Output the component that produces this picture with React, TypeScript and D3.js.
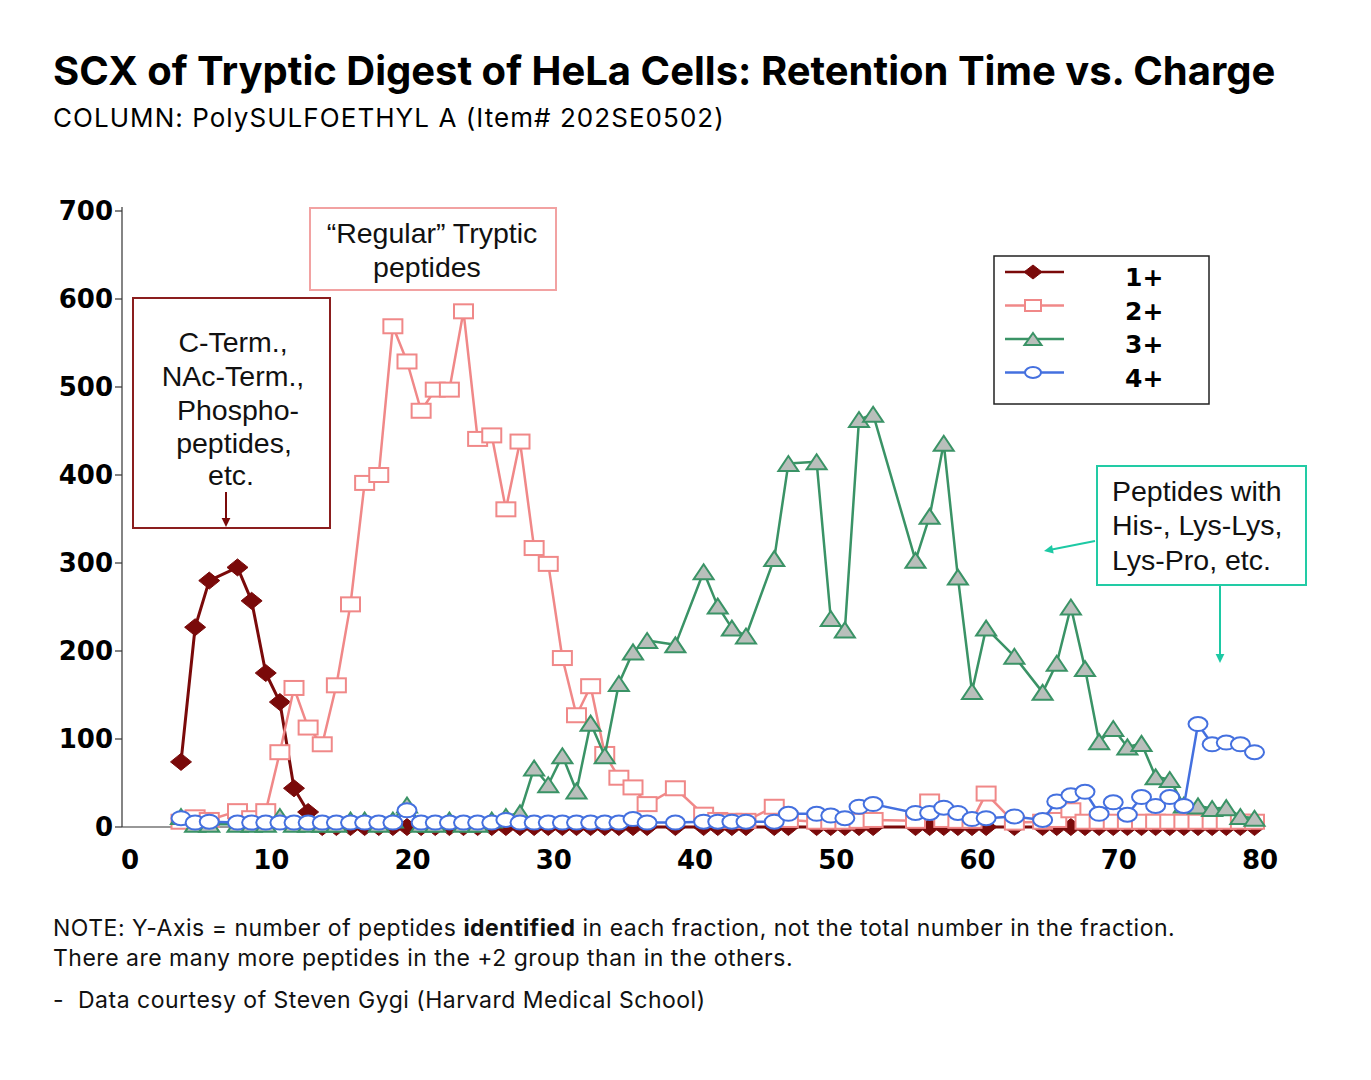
import React from 'react'
import * as d3 from 'd3'

/* svg size and plot frame */
const width = 1371
const height = 1080
const plot = { left: 122, right: 1265, top: 211, bottom: 827 }

/* SCX fractions that were analysed (7, 38, 40, 45, 48, 54, 55, 62, 64 have no data) */
const fractions = [
    4, 5, 6, 8, 9, 10, 11, 12, 13, 14,
    15, 16, 17, 18, 19, 20, 21, 22, 23, 24,
    25, 26, 27, 28, 29, 30, 31, 32, 33, 34,
    35, 36, 37, 39, 41, 42, 43, 44, 46, 47,
    49, 50, 51, 52, 53, 56, 57, 58, 59, 60,
    61, 63, 65, 66, 67, 68, 69, 70, 71, 72,
    73, 74, 75, 76, 77, 78, 79, 80,
]

/* number of identified peptides per fraction, by charge state */
const charge1 = [
    74, 227, 280, 295, 257, 175, 142, 44, 17, 0,
    0, 0, 0, 0, 0, 0, 0, 0, 0, 0,
    0, 0, 0, 0, 0, 0, 0, 0, 0, 0,
    0, 0, 0, 0, 0, 0, 0, 0, 0, 0,
    0, 0, 0, 0, 0, 0, 0, 0, 0, 0,
    0, 0, 0, 0, 0, 0, 0, 0, 0, 0,
    0, 0, 0, 0, 0, 0, 0, 0,
]
const charge2 = [
    6, 11, 8, 18, 10, 18, 85, 158, 113, 94,
    161, 253, 391, 400, 569, 529, 473, 497, 497, 586,
    441, 445, 361, 438, 317, 299, 192, 127, 160, 83,
    56, 45, 26, 44, 14, 8, 7, 7, 23, 8,
    6, 6, 6, 7, 8, 7, 29, 8, 7, 7,
    38, 5, 6, 8, 19, 6, 6, 6, 6, 6,
    6, 6, 6, 6, 6, 6, 6, 6,
]
const charge3 = [
    12, 3, 3, 3, 3, 3, 12, 3, 3, 3,
    3, 8, 8, 3, 8, 25, 3, 3, 8, 3,
    3, 8, 12, 16, 67, 48, 81, 41, 118, 81,
    163, 199, 212, 207, 290, 251, 226, 217, 305, 413,
    415, 237, 224, 463, 469, 303, 353, 436, 284, 154,
    226, 194, 153, 186, 250, 180, 97, 112, 91, 95,
    57, 54, 25, 24, 21, 22, 12, 10,
]
const charge4 = [
    10, 5, 6, 5, 5, 5, 5, 5, 5, 5,
    5, 5, 5, 5, 5, 19, 5, 5, 5, 5,
    5, 5, 8, 5, 5, 5, 5, 5, 5, 5,
    5, 9, 5, 5, 6, 6, 6, 6, 6, 15,
    15, 13, 10, 23, 26, 16, 16, 22, 16, 9,
    10, 12, 8, 29, 36, 40, 15, 28, 14, 34,
    24, 34, 24, 117, 94, 96, 94, 85,
]

const xTicks = [0, 10, 20, 30, 40, 50, 60, 70, 80]
const yTicks = [0, 100, 200, 300, 400, 500, 600, 700]

/* series styling: charge label, colours and marker shape */
const series = [
    { label: '1+', values: charge1, stroke: '#7a0a0a', fill: '#7a0a0a', width: 3, shape: 'diamond' },
    { label: '2+', values: charge2, stroke: '#f08888', fill: '#ffffff', width: 2.5, shape: 'square' },
    { label: '3+', values: charge3, stroke: '#3a9366', fill: '#b9bfbb', width: 2.5, shape: 'triangle' },
    { label: '4+', values: charge4, stroke: '#4470df', fill: '#ffffff', width: 2.5, shape: 'circle' },
]

const xScale = d3.scaleLinear().domain([0, 80]).range([124.5, 1254.5])
const yScale = d3.scaleLinear().domain([0, 700]).range([plot.bottom, plot.top])

/* marker drawn centred on (0,0) with the given box size */
const Marker = ({ shape, w, h, stroke, fill, sw }) => {
    if (shape === 'diamond')
        return <path d={`M0,${-h / 2}L${w / 2},0L0,${h / 2}L${-w / 2},0Z`} fill={fill} stroke={stroke} strokeWidth={1} />
    if (shape === 'square')
        return <rect x={-w / 2} y={-h / 2} width={w} height={h} fill={fill} stroke={stroke} strokeWidth={sw} />
    if (shape === 'triangle')
        return <path d={`M0,${-h / 2}L${w / 2},${h / 2}L${-w / 2},${h / 2}Z`} fill={fill} stroke={stroke} strokeWidth={sw} strokeLinejoin="miter" />
    return <ellipse rx={w / 2} ry={h / 2} fill={fill} stroke={stroke} strokeWidth={sw} />
}

const markerSize = {
    diamond: [21, 17],
    square: [19, 14],
    triangle: [20, 15],
    circle: [19, 14],
}

const annoFont = '"Liberation Sans", Arial, sans-serif'
const axisFont = '"DejaVu Sans", sans-serif'
const textFont = 'Inter, "Noto Sans", sans-serif'

const Arrow = ({ x1, y1, x2, y2, color }) => {
    const a = Math.atan2(y2 - y1, x2 - x1)
    const len = 10
    const spread = 0.45
    const p1 = [x2 - len * Math.cos(a - spread), y2 - len * Math.sin(a - spread)]
    const p2 = [x2 - len * Math.cos(a + spread), y2 - len * Math.sin(a + spread)]
    const bx = x2 - (len - 2) * Math.cos(a)
    const by = y2 - (len - 2) * Math.sin(a)
    return (
        <g>
            <line x1={x1} y1={y1} x2={bx} y2={by} stroke={color} strokeWidth={2} />
            <path d={`M${x2},${y2}L${p1[0]},${p1[1]}L${p2[0]},${p2[1]}Z`} fill={color} />
        </g>
    )
}

export default function App() {
    const line = d3
        .line()
        .x((d) => xScale(d[0]))
        .y((d) => yScale(d[1]))

    return (
        <svg
            width={width}
            height={height}
            style={{ position: 'absolute', left: 0, top: 0, background: '#fff' }}
        >
            {/* title block */}
            <text x={53} y={85} fontFamily={textFont} fontWeight={700} fontSize={40} fill="#000">
                SCX of Tryptic Digest of HeLa Cells: Retention Time vs. Charge
            </text>
            <text x={53} y={127} fontFamily={textFont} fontSize={26} letterSpacing={1.05} fill="#000">
                COLUMN: PolySULFOETHYL A (Item# 202SE0502)
            </text>

            {/* y axis */}
            <line x1={plot.left} y1={yScale(700) - 4} x2={plot.left} y2={plot.bottom} stroke="#333" strokeWidth={1.2} />
            {yTicks.map((t) => (
                <g key={t} transform={`translate(0, ${yScale(t)})`}>
                    <line x1={plot.left - 7} x2={plot.left} stroke="#333" strokeWidth={1.2} />
                    <text
                        x={113}
                        dy="0.36em"
                        textAnchor="end"
                        fontFamily={axisFont}
                        fontWeight={700}
                        fontSize={26}
                    >
                        {t}
                    </text>
                </g>
            ))}

            {/* x axis */}
            <line x1={plot.left} y1={plot.bottom} x2={plot.right} y2={plot.bottom} stroke="#333" strokeWidth={1.2} />
            {xTicks.map((t) => (
                <text
                    key={t}
                    x={xScale(t) + 5.5}
                    y={869}
                    textAnchor="middle"
                    fontFamily={axisFont}
                    fontWeight={700}
                    fontSize={26}
                >
                    {t}
                </text>
            ))}

            {/* series: line, then markers */}
            {series.map((s) => {
                const pts = fractions.map((f, i) => [f, s.values[i]])
                const [w, h] = markerSize[s.shape]
                return (
                    <g key={s.label}>
                        <path d={line(pts)} fill="none" stroke={s.stroke} strokeWidth={s.width} strokeLinejoin="round" />
                        {pts.map((p, i) => (
                            <g key={i} transform={`translate(${xScale(p[0])}, ${yScale(p[1])})`}>
                                <Marker shape={s.shape} w={w} h={h} stroke={s.stroke} fill={s.fill} sw={2} />
                            </g>
                        ))}
                    </g>
                )
            })}

            {/* legend */}
            <rect x={994} y={256} width={215} height={148} fill="#fff" stroke="#222" strokeWidth={1.5} />
            {series.map((s, i) => {
                const ly = 272 + i * 33.5
                const [w, h] = markerSize[s.shape]
                return (
                    <g key={s.label}>
                        <line x1={1005} x2={1064} y1={ly} y2={ly} stroke={s.stroke} strokeWidth={2.5} />
                        <g transform={`translate(1033, ${ly})`}>
                            <Marker shape={s.shape} w={w - 3} h={h - 3} stroke={s.stroke} fill={s.fill} sw={2} />
                        </g>
                        <text
                            x={1125}
                            y={ly + 5}
                            dy="0.36em"
                            fontFamily={axisFont}
                            fontWeight={700}
                            fontSize={25}
                        >
                            {s.label}
                        </text>
                    </g>
                )
            })}

            {/* "Regular" tryptic peptides note */}
            <rect x={310} y={208} width={246} height={82} fill="#fff" stroke="#f2a2a2" strokeWidth={2} />
            <g fontFamily={annoFont} fontSize={28.5} textAnchor="middle" fill="#111">
                <text x={432} y={243}>“Regular” Tryptic</text>
                <text x={427} y={277}>peptides</text>
            </g>

            {/* early eluting peptides note */}
            <rect x={133} y={298} width={197} height={230} fill="#fff" stroke="#8b1e1e" strokeWidth={2} />
            <g fontFamily={annoFont} fontSize={28.5} textAnchor="middle" fill="#111">
                <text x={233} y={352}>C-Term.,</text>
                <text x={233} y={386}>NAc-Term.,</text>
                <text x={238} y={420}>Phospho-</text>
                <text x={234} y={453}>peptides,</text>
                <text x={231} y={485}>etc.</text>
            </g>
            <Arrow x1={226} y1={492} x2={226} y2={527} color="#7a0a0a" />

            {/* basic peptides note */}
            <rect x={1097} y={466} width={209} height={119} fill="#fff" stroke="#22cba5" strokeWidth={2} />
            <g fontFamily={annoFont} fontSize={28.5} fill="#111">
                <text x={1112} y={501}>Peptides with</text>
                <text x={1112} y={535}>His-, Lys-Lys,</text>
                <text x={1112} y={570}>Lys-Pro, etc.</text>
            </g>
            <Arrow x1={1095} y1={541} x2={1044} y2={551} color="#1dc9a4" />
            <Arrow x1={1220} y1={586} x2={1220} y2={663} color="#1dc9a4" />

            {/* footnotes */}
            <g fontFamily={textFont} fontSize={23} letterSpacing={0.5} fill="#111">
                <text x={53} y={936}>
                    NOTE: Y-Axis = number of peptides <tspan fontWeight={700}>identified</tspan> in each
                    fraction, not the total number in the fraction.
                </text>
                <text x={53} y={966}>There are many more peptides in the +2 group than in the others.</text>
                <text x={53} y={1008} xmlSpace="preserve">-  Data courtesy of Steven Gygi (Harvard Medical School)</text>
            </g>
        </svg>
    )
}
